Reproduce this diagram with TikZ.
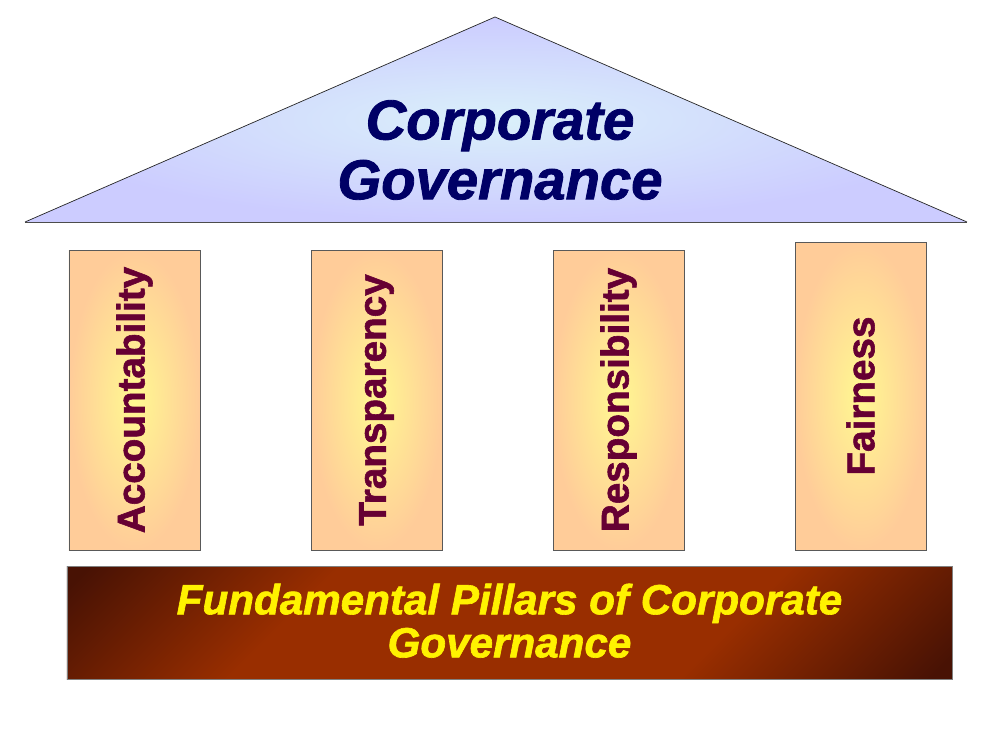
\documentclass[tikz,border=0pt]{standalone}
\usepackage{graphicx}
\usepackage{fontspec}
\setmainfont{Liberation Sans}[BoldFeatures={FakeBold=1.5},BoldItalicFeatures={FakeBold=1.5}]
\usetikzlibrary{positioning}

\definecolor{roofblue}{RGB}{204,204,255}
\definecolor{roofcore}{RGB}{218,240,250}
\definecolor{navytext}{RGB}{0,0,102}
\definecolor{peach}{RGB}{255,204,153}
\definecolor{paleyellow}{RGB}{255,248,145}
\definecolor{maroontext}{RGB}{102,0,51}
\definecolor{darkbrown}{RGB}{72,18,4}
\definecolor{rust}{RGB}{153,46,0}

\pgfdeclareverticalshading{basefade}{100bp}{color(0bp)=(darkbrown); color(16bp)=(darkbrown);
    color(34bp)=(rust); color(66bp)=(rust); color(84bp)=(darkbrown); color(100bp)=(darkbrown)}

\begin{document}
\begin{tikzpicture}[x=0.2mm,y=-0.2mm,node distance=48.4mm,
        pillar/.style={draw=black!65,shade,inner color=paleyellow,outer color=peach,
            minimum width=26.2mm,minimum height=60mm,inner sep=0pt,text=maroontext,
            font=\fontsize{22}{24}\selectfont\bfseries},
        roof text/.style={text=navytext,align=center,font=\fontsize{32}{34}\selectfont\bfseries\itshape},
        base/.style={draw=black!50,shade,shading=basefade,shading angle=45,
            minimum width=177mm,minimum height=22.6mm,inner sep=0pt,
            text=yellow,align=center,font=\fontsize{24}{24.5}\selectfont\bfseries\itshape}]

    \useasboundingbox (0,0) rectangle (1000,750);

    % roof
    \coordinate (eaveL) at (25,222);
    \coordinate (apex) at (495,17);
    \coordinate (eaveR) at (967,222);
    \shade[inner color=roofcore,outer color=roofblue] (eaveL) -- (apex) -- (eaveR) -- cycle;
    \draw[black!70] (eaveL) -- (eaveR);
    \draw[black!85,line join=miter] (eaveL) -- (apex) -- (eaveR);
    \node[roof text] (roof) at (500,150) {Corporate\\Governance};

    % pillars
    \node[pillar] (p1) at (134.5,400) {\rotatebox{90}{Accountability}};
    \node[pillar] (p2) [right of=p1] {\rotatebox{90}{Transparency}};
    \node[pillar] (p3) [right of=p2] {\rotatebox{90}{Responsibility}};
    \node[pillar,minimum height=61.6mm] (p4) [right of=p3,yshift=0.8mm] {\rotatebox{90}{Fairness}};

    % base
    \node[base] (base) at (509.5,622.5) {\raisebox{0.8mm}{Fundamental Pillars of Corporate}\\\raisebox{0.8mm}{Governance}};

\end{tikzpicture}
\end{document}
